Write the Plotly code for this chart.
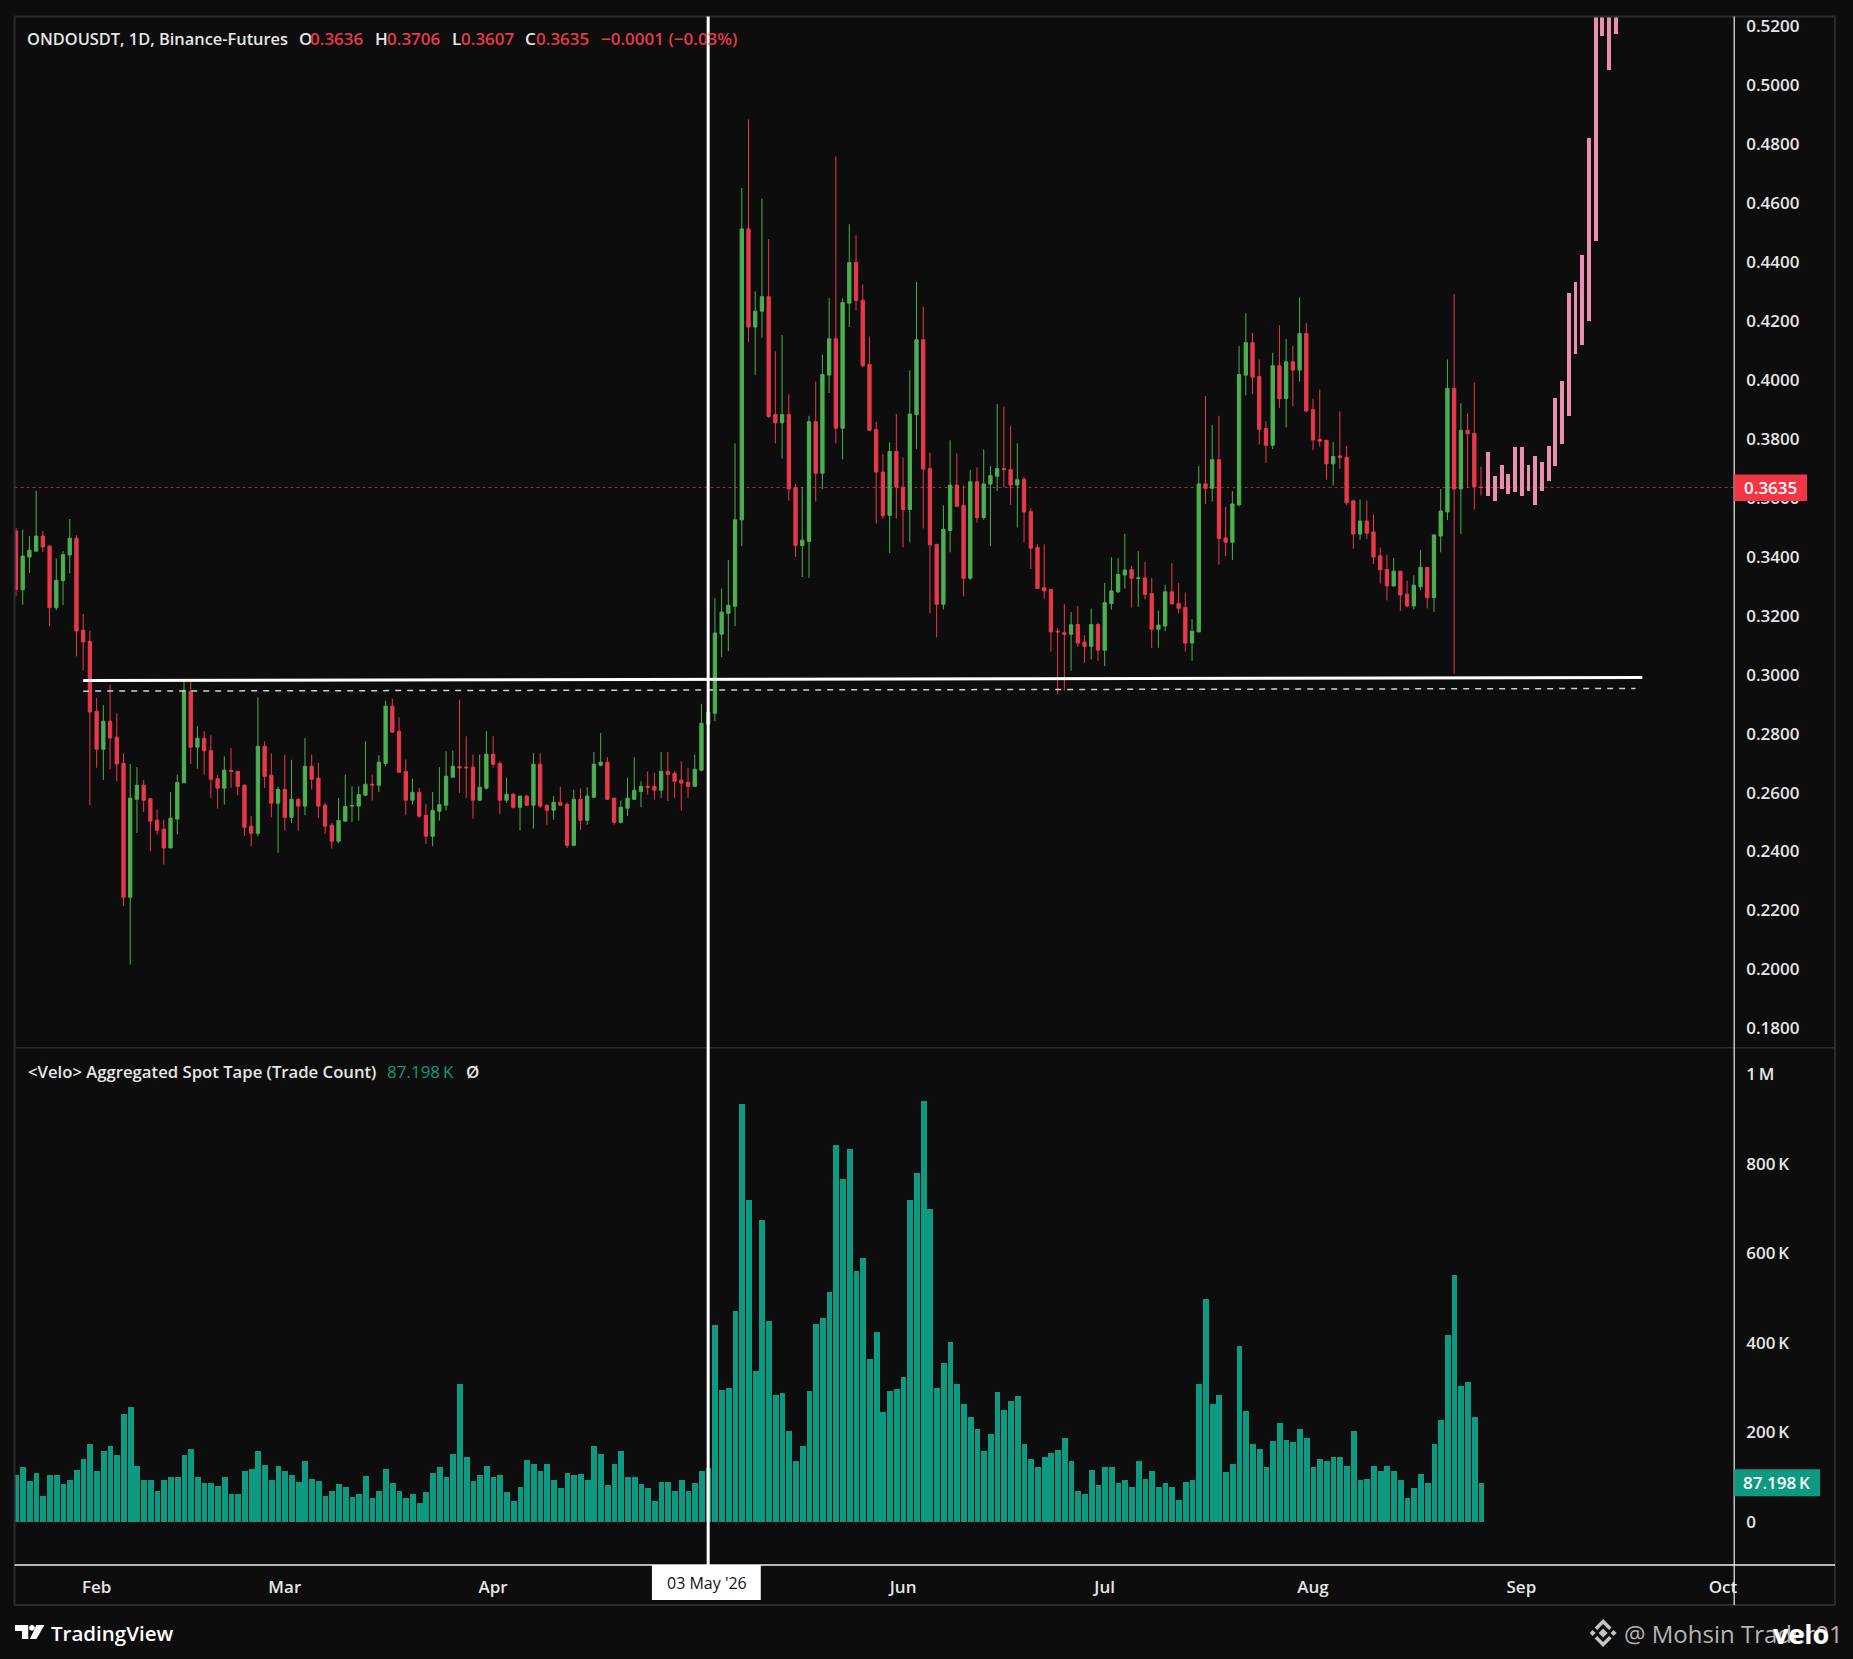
import pandas as pd
import plotly.graph_objects as go

W, H = 1853, 1659
FONT = "Open Sans"
BG = "#0d0d0d"
GREEN = "#4caf50"
RED = "#e8394a"
TEAL = "#0e9a80"
PINK = "#e98db1"
BORDER = "#2a2a30"
TEXT = "#e6e6e6"

# daily candles, first one is 20 Jan 2026
opens = [
    .3487, .3288, .3399, .3419, .3470, .3436, .3227, .3319, .3406, .3463,
    .3151, .3113, .2876, .2747, .2842, .2788, .2699, .2245, .2577, .2625,
    .2579, .2506, .2476, .2412, .2510, .2633, .2943, .2754, .2784, .2742,
    .2647, .2615, .2675, .2672, .2625, .2486, .2462, .2757, .2659, .2564,
    .2611, .2516, .2577, .2554, .2689, .2649, .2557, .2489, .2435, .2503,
    .2554, .2554, .2591, .2628, .2625, .2699, .2893, .2808, .2672, .2574,
    .2601, .2523, .2452, .2537, .2557, .2652, .2688, .2686, .2686, .2574,
    .2615, .2730, .2699, .2574, .2594, .2550, .2588, .2557, .2696, .2557,
    .2540, .2567, .2560, .2421, .2577, .2506, .2584, .2693, .2703, .2581,
    .2499, .2547, .2577, .2604, .2621, .2621, .2608, .2672, .2665, .2642,
    .2635, .2621, .2676, .2832, .2869, .3137, .3208, .3232, .3525, .4512,
    .4179, .4233, .4282, .3882, .3854, .3882, .3634, .3438, .3452, .3858,
    .3683, .4016, .4139, .3836, .4260, .4398, .4270, .4052, .3831, .3687,
    .3540, .3757, .3636, .3560, .3882, .4136, .3699, .3442, .3239, .3489,
    .3643, .3574, .3327, .3654, .3533, .3646, .3673, .3699, .3695, .3643,
    .3663, .3553, .3431, .3295, .3289, .3147, .3142, .3137, .3170, .3110,
    .3096, .3170, .3083, .3241, .3281, .3338, .3356, .3326, .3328, .3275,
    .3154, .3165, .3281, .3241, .3228, .3107, .3145, .3647, .3632, .3729,
    .3464, .3449, .3576, .4016, .4126, .4011, .3835, .3778, .4048, .3936,
    .4061, .4033, .4157, .3899, .3798, .3795, .3715, .3742, .3737, .3589,
    .3477, .3521, .3484, .3403, .3357, .3301, .3351, .3273, .3233, .3298,
    .3364, .3261, .3470, .3552, .3971, .3630, .3829, .3818, .3636,
]
highs = [
    .3498, .3492, .3470, .3624, .3487, .3438, .3394, .3419, .3528, .3473,
    .3206, .3149, .2921, .2896, .2966, .2869, .2733, .2697, .2686, .2643,
    .2582, .2542, .2508, .2602, .2661, .2977, .2977, .2825, .2808, .2794,
    .2661, .2723, .2751, .2672, .2627, .2520, .2923, .2774, .2733, .2620,
    .2729, .2711, .2582, .2785, .2729, .2701, .2565, .2497, .2582, .2661,
    .2621, .2621, .2774, .2661, .2727, .2912, .2919, .2855, .2712, .2647,
    .2616, .2562, .2602, .2686, .2740, .2742, .2915, .2791, .2729, .2729,
    .2808, .2791, .2706, .2650, .2599, .2588, .2593, .2734, .2733, .2559,
    .2588, .2620, .2567, .2610, .2614, .2618, .2738, .2802, .2720, .2582,
    .2573, .2650, .2720, .2638, .2672, .2667, .2738, .2738, .2672, .2706,
    .2684, .2729, .2901, .2921, .3259, .3292, .3389, .3784, .4651, .4883,
    .4300, .4615, .4477, .4096, .4152, .3951, .3646, .3636, .3878, .3994,
    .4085, .4277, .4758, .4277, .4528, .4490, .4324, .4146, .3858, .3748,
    .3788, .3884, .3737, .4032, .4332, .4249, .3753, .3442, .3574, .3795,
    .3750, .3641, .3694, .3703, .3764, .3708, .3918, .3909, .3844, .3784,
    .3670, .3565, .3442, .3442, .3289, .3157, .3239, .3212, .3233, .3134,
    .3224, .3177, .3311, .3398, .3395, .3478, .3369, .3419, .3382, .3328,
    .3217, .3305, .3378, .3311, .3279, .3188, .3708, .3945, .3847, .3878,
    .3570, .3623, .4115, .4226, .4159, .4069, .3859, .4092, .4185, .4139,
    .4115, .4279, .4193, .3936, .3967, .3795, .3789, .3893, .3776, .3594,
    .3594, .3591, .3543, .3431, .3407, .3396, .3351, .3319, .3337, .3423,
    .3365, .3474, .3630, .4069, .4291, .3921, .3887, .3991, .3706,
]
lows = [
    .3266, .3238, .3345, .3416, .3416, .3164, .3218, .3236, .3343, .3062,
    .3014, .2557, .2684, .2643, .2679, .2638, .2215, .2017, .2463, .2534,
    .2401, .2458, .2356, .2412, .2458, .2633, .2697, .2681, .2661, .2582,
    .2546, .2559, .2616, .2591, .2453, .2418, .2452, .2616, .2516, .2395,
    .2471, .2497, .2471, .2523, .2610, .2514, .2460, .2410, .2429, .2503,
    .2500, .2505, .2588, .2573, .2602, .2690, .2802, .2667, .2525, .2559,
    .2514, .2426, .2418, .2505, .2539, .2652, .2599, .2582, .2512, .2571,
    .2610, .2684, .2528, .2565, .2546, .2471, .2554, .2478, .2548, .2491,
    .2508, .2554, .2412, .2418, .2473, .2491, .2582, .2689, .2575, .2491,
    .2495, .2520, .2576, .2550, .2593, .2576, .2582, .2571, .2582, .2539,
    .2582, .2621, .2672, .2751, .2842, .3060, .3080, .3164, .3436, .4128,
    .4016, .4143, .3871, .3784, .3733, .3590, .3399, .3331, .3328, .3587,
    .3630, .3955, .3784, .3730, .4179, .4235, .4043, .3827, .3512, .3529,
    .3413, .3529, .3431, .3449, .3766, .3496, .3208, .3126, .3221, .3415,
    .3570, .3265, .3322, .3516, .3525, .3436, .3623, .3636, .3576, .3499,
    .3449, .3358, .3292, .3257, .3078, .2933, .2946, .3013, .3094, .3040,
    .3051, .3047, .3029, .3221, .3277, .3292, .3228, .3230, .3255, .3090,
    .3091, .3147, .3239, .3208, .3078, .3047, .3145, .3579, .3587, .3373,
    .3402, .3389, .3571, .3947, .3951, .3781, .3718, .3765, .3905, .3838,
    .3910, .3994, .3890, .3761, .3773, .3661, .3642, .3698, .3575, .3427,
    .3457, .3459, .3376, .3309, .3252, .3298, .3216, .3228, .3221, .3287,
    .3225, .3213, .3415, .3524, .3003, .3477, .3633, .3560, .3607,
]
closes = [
    .3289, .3402, .3422, .3470, .3433, .3227, .3320, .3407, .3463, .3148,
    .3111, .2873, .2747, .2842, .2785, .2697, .2245, .2581, .2625, .2574,
    .2503, .2472, .2412, .2513, .2634, .2947, .2754, .2784, .2742, .2645,
    .2615, .2676, .2672, .2621, .2482, .2462, .2757, .2655, .2564, .2611,
    .2516, .2577, .2554, .2689, .2645, .2554, .2486, .2435, .2505, .2553,
    .2556, .2593, .2628, .2626, .2703, .2893, .2805, .2669, .2574, .2601,
    .2520, .2452, .2539, .2559, .2655, .2689, .2684, .2684, .2574, .2618,
    .2730, .2696, .2574, .2594, .2550, .2588, .2557, .2696, .2554, .2540,
    .2567, .2557, .2421, .2577, .2506, .2588, .2696, .2703, .2577, .2499,
    .2550, .2581, .2608, .2621, .2618, .2608, .2672, .2662, .2638, .2632,
    .2621, .2679, .2835, .2872, .3141, .3212, .3235, .3525, .4512, .4179,
    .4233, .4282, .3876, .3854, .3882, .3630, .3438, .3456, .3858, .3683,
    .4018, .4139, .3836, .4262, .4398, .4269, .4048, .3829, .3687, .3539,
    .3757, .3636, .3560, .3884, .4136, .3697, .3440, .3239, .3493, .3643,
    .3571, .3327, .3654, .3533, .3647, .3675, .3699, .3695, .3643, .3661,
    .3552, .3429, .3292, .3284, .3145, .3145, .3137, .3169, .3107, .3096,
    .3170, .3083, .3244, .3284, .3340, .3355, .3327, .3328, .3272, .3154,
    .3168, .3281, .3240, .3225, .3107, .3147, .3647, .3632, .3729, .3462,
    .3449, .3579, .4018, .4126, .4009, .3832, .3778, .4048, .3936, .4061,
    .4033, .4157, .3894, .3796, .3792, .3715, .3740, .3737, .3583, .3477,
    .3521, .3480, .3399, .3356, .3301, .3351, .3270, .3233, .3303, .3364,
    .3261, .3474, .3555, .3971, .3630, .3829, .3817, .3638, .3635,
]

# trade count in thousands, one bar per candle
trades_k = [
    106, 122, 91, 110, 59, 106, 106, 86, 95, 117,
    141, 174, 115, 159, 170, 149, 242, 258, 125, 93,
    93, 69, 93, 100, 100, 150, 163, 100, 88, 88,
    81, 101, 63, 63, 115, 119, 159, 128, 95, 125,
    115, 104, 90, 137, 97, 92, 59, 70, 84, 78,
    55, 62, 103, 53, 70, 119, 88, 69, 53, 62,
    42, 66, 110, 122, 100, 153, 308, 145, 91, 104,
    125, 101, 104, 66, 48, 79, 139, 130, 115, 130,
    93, 75, 110, 106, 108, 95, 169, 153, 82, 130,
    159, 100, 101, 84, 75, 48, 90, 90, 70, 93,
    70, 88, 115, 121, 441, 295, 300, 471, 934, 720,
    337, 676, 449, 285, 289, 204, 137, 169, 293, 443,
    455, 515, 842, 767, 834, 560, 589, 365, 425, 247,
    293, 298, 325, 720, 781, 941, 700, 300, 355, 403,
    309, 263, 234, 207, 159, 196, 291, 251, 271, 282,
    175, 140, 122, 146, 155, 162, 187, 137, 70, 62,
    117, 82, 122, 122, 88, 95, 78, 137, 97, 113,
    78, 88, 79, 50, 90, 93, 309, 499, 264, 283,
    111, 130, 394, 249, 174, 164, 122, 180, 222, 184,
    178, 207, 187, 124, 140, 136, 145, 146, 126, 204,
    93, 97, 126, 115, 126, 115, 95, 53, 75, 108,
    88, 174, 229, 417, 551, 303, 312, 234, 87.198,
]

# hand drawn projection after the last candle
proj_high = [.3754, .3673, .3711, .3680, .3771, .3771, .3711, .3740, .3720, .3774,
             .3936, .3994, .4293, .4330, .4423, .4819, .5300, .5300, .5300, .5300]
proj_low = [.3605, .3586, .3628, .3610, .3617, .3606, .3621, .3575, .3621, .3656,
            .3706, .3781, .3874, .4087, .4118, .4199, .4470, .5163, .5049, .5173]

price_ticks = [.18, .20, .22, .24, .26, .28, .30, .32, .34, .36, .38, .40, .42, .44, .46, .48, .50, .52]
trade_ticks = [0, 200, 400, 600, 800, 1000]
trade_labels = ["0", "200\u2009K", "400\u2009K", "600\u2009K", "800\u2009K", "1\u2009M"]
month_ticks = ["2026-02-01", "2026-03-01", "2026-04-01", "2026-06-01", "2026-07-01",
               "2026-08-01", "2026-09-01", "2026-10-01"]
month_labels = ["Feb", "Mar", "Apr", "Jun", "Jul", "Aug", "Sep", "Oct"]

support_x = ["2026-01-30", "2026-09-19"]
support_y = [.2980, .2990]
support_low_x = ["2026-01-30", "2026-09-18"]
support_low_y = [.2944, .2953]

last_price = .3635
selected_day = "2026-05-03"

start = pd.Timestamp("2026-01-20")
days = pd.date_range(start, periods=len(opens))
proj_days = pd.date_range(days[-1] + pd.Timedelta(days=1), periods=len(proj_high))
x_range = [start - pd.Timedelta(days=0.208), start + pd.Timedelta(days=255.67)]
DAY_MS = 86400000


def fx(x):
    return x / W


def fy(y):
    return 1 - y / H


def path(points, color):
    d = "M" + " L".join(f"{fx(x):.5f},{fy(y):.5f}" for x, y in points) + " Z"
    return dict(type="path", xref="paper", yref="paper", path=d, fillcolor=color, line_width=0)


def box(x0, y0, x1, y1, color):
    return dict(type="rect", xref="paper", yref="paper", x0=fx(x0), x1=fx(x1), y0=fy(y0), y1=fy(y1),
                fillcolor=color, line_width=0)


def rule(x0, y0, x1, y1, color, width=1):
    return dict(type="line", xref="paper", yref="paper", x0=fx(x0), x1=fx(x1), y0=fy(y0), y1=fy(y1),
                line=dict(color=color, width=width))


def label(x, y, text, color=TEXT, size=17, anchor="left", weight=600, font=FONT):
    return dict(xref="paper", yref="paper", x=fx(x), y=fy(y), text=text, showarrow=False,
                xanchor=anchor, yanchor="middle", borderpad=0,
                font=dict(family=font, size=size, color=color, weight=weight))


fig = go.Figure()
fig.add_trace(go.Candlestick(
    x=days, open=opens, high=highs, low=lows, close=closes,
    increasing=dict(line=dict(color=GREEN, width=1), fillcolor=GREEN),
    decreasing=dict(line=dict(color=RED, width=1), fillcolor=RED),
    whiskerwidth=0,
))
fig.add_trace(go.Bar(
    x=proj_days, y=[h - l for h, l in zip(proj_high, proj_low)], base=proj_low,
    width=DAY_MS * 0.58, marker=dict(color=PINK, line_width=0),
))
fig.add_trace(go.Scatter(x=support_x, y=support_y, mode="lines", line=dict(color="#ffffff", width=3)))
fig.add_trace(go.Scatter(x=support_low_x, y=support_low_y, mode="lines",
                         line=dict(color="#cfcfcf", width=1.5, dash="6px,6px")))
fig.add_trace(go.Bar(
    x=days, y=trades_k, xaxis="x2", yaxis="y2", width=DAY_MS * 0.86,
    marker=dict(color=TEAL, line_width=0),
))

tick_font = dict(family=FONT, size=17, color=TEXT, weight=600)
shapes = [
    # dotted last price line sits behind the candles
    dict(type="line", xref="paper", yref="y", x0=fx(14.6), x1=fx(1737), y0=last_price, y1=last_price,
         line=dict(color="#a8323f", width=1, dash="dot"), layer="below"),
    # panel frame
    rule(14.6, 14.5, 1838, 14.5, BORDER, 2),
    rule(14.6, 14.5, 14.6, 1605, BORDER, 2),
    rule(1838, 14.5, 1838, 1605, BORDER, 2),
    rule(14.6, 1605, 1838, 1605, BORDER, 2),
    rule(14.6, 1047, 1838, 1047, BORDER, 1.5),
    rule(14.6, 1565, 1838, 1565, "#f0f0f0", 1.5),
    rule(1737, 14.5, 1737, 1605, "#f0f0f0", 1.2),
    # crosshair
    dict(type="line", xref="x", yref="paper", x0=selected_day, x1=selected_day, y0=fy(1565), y1=fy(14.5),
         line=dict(color="#ffffff", width=3)),
    box(653, 1565, 762, 1600, "#ffffff"),
    # badges on the axes
    dict(type="rect", xref="paper", yref="paper", x0=fx(1737), x1=fx(1810), y0=fy(473), y1=fy(499.5),
         fillcolor="#f23645", line_width=0),
    dict(type="rect", xref="paper", yref="paper", x0=fx(1737), x1=fx(1823), y0=fy(1469), y1=fy(1496),
         fillcolor=TEAL, line_width=0),
]

# TradingView logo
for pts in [
    [(15, 1625), (28.3, 1625), (28.3, 1639), (22, 1639), (22, 1631), (15, 1631)],
    [(36.5, 1625), (44.5, 1625), (36.5, 1639), (30, 1639)],
    [(32, 1624.8), (34.1, 1625.7), (35, 1627.8), (34.1, 1629.9), (32, 1630.8), (29.9, 1629.9), (29, 1627.8), (29.9, 1625.7)],
]:
    shapes.append(path(pts, "#ffffff"))

# watermark icon
cx, cy = 1605.7, 1633
for pts in [
    [(0, -4.5), (4.5, 0), (0, 4.5), (-4.5, 0)],
    [(-10.5, -3), (-7.5, 0), (-10.5, 3), (-13.5, 0)],
    [(10.5, -3), (13.5, 0), (10.5, 3), (7.5, 0)],
    [(0, -14), (8.5, -5.5), (6, -3), (0, -9), (-6, -3), (-8.5, -5.5)],
    [(0, 14), (8.5, 5.5), (6, 3), (0, 9), (-6, 3), (-8.5, 5.5)],
]:
    shapes.append(path([(cx + a, cy + b) for a, b in pts], "#c4c4c4"))

annotations = [
    label(26.5, 36.5, "ONDOUSDT, 1D, Binance-Futures", size=16.4),
    label(298, 36.5, "O"), label(310, 36.5, "0.3636", RED),
    label(375, 36.5, "H"), label(387, 36.5, "0.3706", RED),
    label(451.6, 36.5, "L"), label(460.7, 36.5, "0.3607", RED),
    label(525, 36.5, "C"), label(536, 36.5, "0.3635", RED),
    label(601, 36.5, "\u22120.0001 (\u22120.03%)", RED),
    label(27.5, 1071, "&lt;Velo&gt; Aggregated Spot Tape (Trade Count)", size=16.7),
    label(387, 1071, "87.198\u2009K", TEAL, weight=500),
    label(466, 1071, "\u00d8"),
    label(1773.5, 486, "0.3635", "#ffffff", anchor="center"),
    label(1779, 1482.5, "87.198\u2009K", "#ffffff", anchor="center"),
    label(708.5, 1583, "03 May '26", "#111111", size=16, anchor="center", weight=500),
    label(50.5, 1633, "TradingView", "#ffffff", size=20.5, weight=600),
    label(1625.5, 1633, "@ Mohsin Trader01", "#b4b4b4", size=24, weight=400),
    label(1833, 1633, "velo", "#ffffff", size=27, anchor="right", weight=700),
]

fig.update_layout(
    width=W, height=H,
    margin=dict(l=0, r=0, t=0, b=0),
    paper_bgcolor=BG, plot_bgcolor=BG,
    showlegend=False, bargap=0, boxgap=0.3,
    font=dict(family=FONT, color=TEXT),
    shapes=shapes, annotations=annotations,
    xaxis=dict(
        domain=[fx(14.6), fx(1737)], range=x_range, type="date", anchor="y",
        rangeslider=dict(visible=False), showgrid=False, zeroline=False, showticklabels=False, ticks="",
    ),
    yaxis=dict(
        domain=[fy(1046), fy(14.5)], range=[.17378, .52325], side="right", anchor="x",
        tickvals=price_ticks, tickformat=".4f", tickfont=tick_font, ticks="",
        ticklabelstandoff=11, showgrid=False, zeroline=False,
    ),
    xaxis2=dict(
        domain=[fx(14.6), fx(1737)], range=x_range, type="date", matches="x", anchor="y2",
        tickvals=month_ticks, ticktext=month_labels, tickfont=tick_font, ticks="",
        ticklabelstandoff=10, showgrid=False, zeroline=False,
    ),
    yaxis2=dict(
        domain=[fy(1565), fy(1047)], range=[-96.9, 1059.4], side="right", anchor="x2",
        tickvals=trade_ticks, ticktext=trade_labels, tickfont=tick_font, ticks="",
        ticklabelstandoff=11, showgrid=False, zeroline=False,
    ),
)

fig.write_html(
    "out.html",
    config=dict(displayModeBar=False),
    post_script="document.body.style.margin='0';document.body.style.background='#0d0d0d';",
)
